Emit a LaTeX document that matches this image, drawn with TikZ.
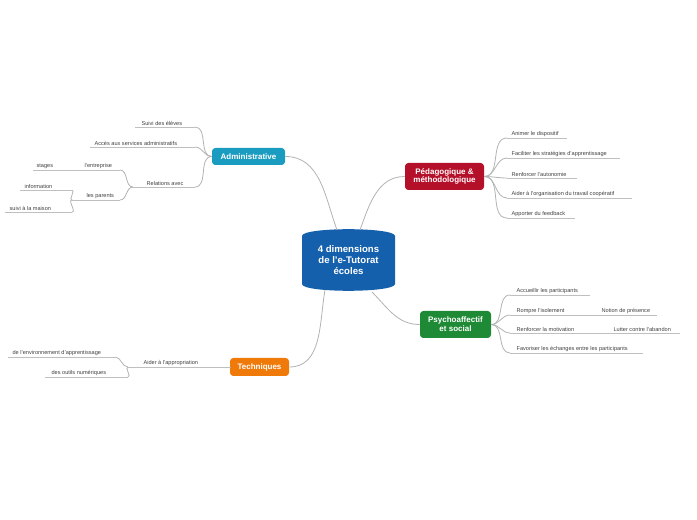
\documentclass[tikz,border=0pt]{standalone}
\usepackage{fontspec}
\setmainfont{Liberation Sans}
\begin{document}
\begin{tikzpicture}[x=0.75pt,y=-0.75pt,
 leaf/.style={inner sep=1pt,font=\fontsize{4.2}{5}\selectfont,text=black!75},
 uline/.style={draw=black!25,line width=0.5pt},
 conn/.style={draw=black!30,line width=0.6pt},
 box/.style={rounded corners=2.5pt,text=white,font=\bfseries\fontsize{6}{6.6}\selectfont,align=center,inner sep=0pt}]
\useasboundingbox (0,0) rectangle (697,520);
\newcommand\leaf[6]{% name, x1, x2, y, text x, text
 \coordinate (#1L) at (#2,#4); \coordinate (#1R) at (#3,#4);
 \draw[uline] (#1L)--(#1R);
 \node[leaf,anchor=south west] (#1) at (#5,#4) {#6};}
% central
\fill[color={rgb,255:red,21;green,96;blue,173}] (302,236) to[out=90,in=90,looseness=0.25] (395,236) -- (395,284) to[out=-90,in=-90,looseness=0.25] (302,284) -- cycle;
\node[text=white,font=\bfseries\fontsize{7.2}{8.2}\selectfont,align=center] (c) at (348.5,260) {4 dimensions\\de l'e-Tutorat\\écoles};
\node[box,fill={rgb,255:red,26;green,155;blue,192},minimum width=73\pgflinewidth,minimum width=54.75pt,minimum height=12.75pt] (adm) at (248.5,156.5) {Administrative};
\node[box,fill={rgb,255:red,181;green,16;blue,42},minimum width=59.25pt,minimum height=20.25pt] (ped) at (444.5,176.5) {Pédagogique \&\\méthodologique};
\node[box,fill={rgb,255:red,30;green,138;blue,53},minimum width=53.25pt,minimum height=20.25pt] (psy) at (455.5,324.5) {Psychoaffectif\\et social};
\node[box,fill={rgb,255:red,239;green,122;blue,10},minimum width=44.25pt,minimum height=13.5pt] (tec) at (259.5,367) {Techniques};
\draw[conn] (c.north) ++(-12,-24) coordinate (c1);
\draw[conn] (337,230) to[out=110,in=0] (adm.east);
\draw[conn] (360,230) to[out=70,in=180] (ped.west);
\draw[conn] (372,292) to[out=-45,in=180] (psy.west);
\draw[conn] (325,290) to[out=-100,in=0] (tec.east);
% Administrative
\leaf{a1}{135}{195}{127}{140}{Suivi des élèves}
\leaf{a2}{90}{195}{147}{93}{Accès aux services administratifs}
\leaf{a3}{133}{195}{187}{145}{Relations avec}
\leaf{a31}{80}{120}{170}{83}{l'entreprise}
\leaf{a311}{33}{80}{170}{35}{stages}
\leaf{a32}{72}{120}{200}{85}{les parents}
\leaf{a321}{20}{72}{190}{23}{information}
\leaf{a322}{5}{72}{212}{8}{suivi à la maison}
\foreach \n in {a1,a2,a3} \draw[conn] (adm.west) to[out=180,in=0] (\n R);
\foreach \n in {a31,a32} \draw[conn] (a3L) to[out=180,in=0] (\n R);
\foreach \n in {a321,a322} \draw[conn] (a32L) to[out=180,in=0] (\n R);
% Pedagogique
\leaf{p1}{507}{567}{138}{510}{Animer le dispositif}
\leaf{p2}{507}{620}{158}{510}{Faciliter les stratégies d'apprentissage}
\leaf{p3}{507}{577}{178}{510}{Renforcer l'autonomie}
\leaf{p4}{507}{632}{198}{510}{Aider à l'organisation du travail coopératif}
\leaf{p5}{507}{575}{218}{510}{Apporter du feedback}
\foreach \n in {p1,p2,p3,p4,p5} \draw[conn] (ped.east) to[out=0,in=180] (\n L);
% Psycho
\leaf{s1}{510}{590}{295}{515}{Accueillir les participants}
\leaf{s2}{510}{570}{315}{515}{Rompre l'isolement}
\leaf{s21}{570}{657}{315}{600}{Notion de présence}
\leaf{s3}{510}{580}{333}{515}{Renforcer la motivation}
\leaf{s31}{580}{680}{333}{612}{Lutter contre l'abandon}
\leaf{s4}{510}{643}{353}{515}{Favoriser les échanges entre les participants}
\foreach \n in {s1,s2,s3,s4} \draw[conn] (psy.east) to[out=0,in=180] (\n L);
% Techniques
\leaf{t1}{128}{230}{367}{142}{Aider à l'appropriation}
\leaf{t11}{8}{115}{357}{11}{de l'environnement d'apprentissage}
\leaf{t12}{45}{128}{377}{50}{des outils numériques}
\draw[conn] (tec.west) -- (t1R);
\foreach \n in {t11,t12} \draw[conn] (t1L) to[out=180,in=0] (\n R);
\end{tikzpicture}
\end{document}
